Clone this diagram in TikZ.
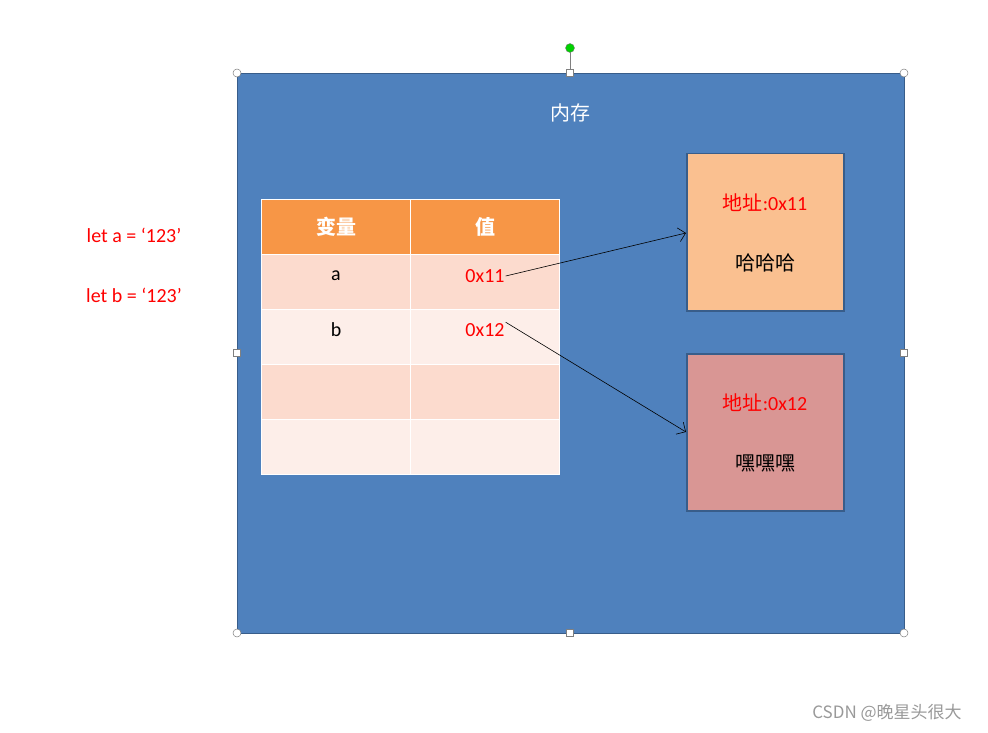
\documentclass[tikz,border=0pt]{standalone}
\usetikzlibrary{arrows.meta}
\usepackage{fontspec}
\setmainfont{Carlito}
\newfontfamily\cjk{Noto Sans CJK SC}
\definecolor{memblue}{HTML}{4F81BD}
\definecolor{edgeblue}{HTML}{385D8A}
\definecolor{hdr}{HTML}{F79646}
\definecolor{rowA}{HTML}{FCDBCE}
\definecolor{rowB}{HTML}{FDEEE9}
\definecolor{boxA}{HTML}{FAC090}
\definecolor{boxB}{HTML}{D99694}
\tikzset{
 cell/.style={draw=white,line width=1pt,minimum width=149pt,minimum height=55pt,anchor=north west,inner sep=0pt},
 txt/.style={font=\fontsize{20}{24}\selectfont},
 memb/.style={draw=edgeblue,line width=1.5pt,minimum width=157pt,minimum height=157pt,anchor=north west},
 handle/.style={draw=gray,fill=white,line width=0.5pt},
 ptr/.style={-{Straight Barb[length=7pt]},line width=0.6pt}
}
\begin{document}
\begin{tikzpicture}[x=1pt,y=-1pt]
\useasboundingbox (0,0) rectangle (988,733);
\node[fill=memblue,draw=edgeblue,minimum width=667pt,minimum height=560pt,anchor=north west,inner sep=0pt] (mem) at (237,73) {};
\draw[gray,line width=0.5pt] (570,48) -- (570,73);
\filldraw[draw=gray,fill=green!70!black!60!green] (570,48) circle (4.5pt);
\foreach \p in {(237,73),(904,73),(237,633),(904,633)} \draw[handle] \p circle (4pt);
\foreach \p in {(570,73),(237,353),(904,353),(570,633)} \draw[handle] \p ++(-3.5,-3.5) rectangle ++(7,7);
\node[txt,white] (title) at (570,113) {\cjk 内存};
% table
\node[cell,fill=hdr] (h1) at (261,199) {};
\node[cell,fill=hdr] (h2) at (410,199) {};
\node[txt,white,font=\cjk\fontsize{20}{24}\selectfont\bfseries] at (h1) {变量};
\node[txt,white,font=\cjk\fontsize{20}{24}\selectfont\bfseries] at (h2) {值};
\node[cell,fill=rowA] (a1) at (261,254) {}; \node[cell,fill=rowA] (a2) at (410,254) {};
\node[cell,fill=rowB] (b1) at (261,309) {}; \node[cell,fill=rowB] (b2) at (410,309) {};
\node[cell,fill=rowA] (c1) at (261,364) {}; \node[cell,fill=rowA] (c2) at (410,364) {};
\node[cell,fill=rowB] (d1) at (261,419) {}; \node[cell,fill=rowB] (d2) at (410,419) {};
\node[txt] at (336,276) {a};
\node[txt] at (336,330) {b};
\node[txt,red,inner sep=1pt] (va) at (485,276) {0x11};
\node[txt,red,inner sep=1pt] (vb) at (485,330) {0x12};
% memory boxes
\node[memb,fill=boxA] (m1) at (686,153) {};
\node[memb,fill=boxB] (m2) at (686,353) {};
\node[txt,red] at (765,203) {\cjk 地址\normalfont:0x11};
\node[txt] at (765,263) {\cjk 哈哈哈};
\node[txt,red] at (765,403) {\cjk 地址\normalfont:0x12};
\node[txt] at (765,463) {\cjk 嘿嘿嘿};
\coordinate (ta) at (686,233);
\coordinate (tb) at (686,432);
\draw[ptr] (va.east) -- (ta);
\draw[ptr] (vb.north east) -- (tb);
% code
\node[txt,red] (la) at (134,235) {let a = ‘123’};
\node[txt,red] (lb) at (134,295) {let b = ‘123’};
\node[gray!80,font=\cjk\fontsize{17}{20}\selectfont] (wm) at (887,713) {CSDN @晚星头很大};
\end{tikzpicture}
\end{document}
